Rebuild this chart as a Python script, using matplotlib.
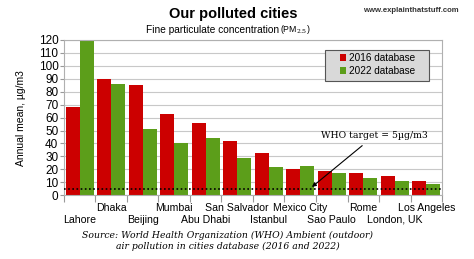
import matplotlib
matplotlib.use("Agg")
import matplotlib.pyplot as plt
from matplotlib.patches import Rectangle
import numpy as np

plt.rcParams["font.family"] = ["Liberation Sans", "DejaVu Sans"]
plt.rcParams["mathtext.fontset"] = "dejavuserif"

cities = ["Lahore", "Dhaka", "Beijing", "Mumbai", "Abu Dhabi", "San Salvador",
          "Istanbul", "Mexico City", "Sao Paulo", "Rome", "London, UK", "Los Angeles"]
pm_2016 = [68, 90, 85, 63, 56, 42, 33, 20, 19, 17, 15, 11]
pm_2022 = [120, 86, 51, 40, 44, 29, 22, 23, 17, 13, 11, 9]
who_target = 5

red = "#cc0000"
green = "#5c9e1a"

fig = plt.figure(figsize=(4.74, 2.59), dpi=100)
ax = fig.add_axes([0.135, 0.246, 0.7975, 0.6])

x = np.arange(len(cities)) + 0.5
w = 0.445
ax.bar(x - w / 2, pm_2016, w, color=red, label="2016 database", zorder=2)
ax.bar(x + w / 2, pm_2022, w, color=green, label="2022 database", zorder=2)
ax.axhline(who_target, color="black", ls=(0, (1, 1.5)), lw=1.2, zorder=3)

ax.set_xlim(0, len(cities))
ax.set_ylim(0, 120)
ax.set_yticks(range(0, 121, 10))
ax.tick_params(axis="y", labelsize=8.5, length=3, color="#999999", pad=1)
ax.yaxis.grid(True, color="#c8c8c8", lw=0.8, zorder=0)

# tick marks on the group boundaries, labels staggered on two rows
ax.set_xticks(np.arange(len(cities) + 1))
ax.set_xticklabels([])
ax.tick_params(axis="x", length=5, color="#999999")
for i, c in enumerate(cities):
    dy = -17.5 if i % 2 == 0 else -9.5
    ax.annotate(c, xy=(x[i], 0), xycoords=("data", "axes fraction"),
                xytext=(0, dy), textcoords="offset points",
                ha="center", va="center", fontsize=7.6)

for s in ax.spines.values():
    s.set_color("#b0b0b0")
    s.set_linewidth(0.8)

ax.set_ylabel("Annual mean, µg/m3", fontsize=7.5, labelpad=9)

ax.annotate("WHO target = 5µg/m3", xy=(7.87, 6.4), xytext=(9.85, 46),
            ha="center", va="center", fontsize=6.7, family="DejaVu Serif",
            arrowprops=dict(arrowstyle="-|>", color="black", lw=0.8,
                            mutation_scale=6, shrinkA=3, shrinkB=0),
            zorder=4)

# legend box drawn separately so its padding can match
fig.patches.append(Rectangle((325 / 474, 1 - 81 / 259), 104 / 474, 31 / 259,
                             transform=fig.transFigure, facecolor="#d9d9d9",
                             edgecolor="#555555", lw=0.8, zorder=5))
leg = fig.legend(loc="upper left", bbox_to_anchor=(337 / 474, 1 - 50 / 259),
                 borderaxespad=0, fontsize=7.2, frameon=False,
                 handlelength=0.6, handleheight=0.6, handletextpad=0.3,
                 borderpad=0.3, labelspacing=0.3)
leg.set_zorder(6)

fig.text(0.492, 0.945, "Our polluted cities", ha="center", va="center",
         fontsize=10.5, fontweight="bold")
fig.text(0.588, 0.885, "Fine particulate concentration", ha="right",
         va="center", fontsize=7.3)
fig.text(0.591, 0.885, r"(PM$_{2.5}$)", ha="left", va="center", fontsize=6.3)
fig.text(0.866, 0.96, "www.explainthatstuff.com", ha="center", va="center",
         fontsize=5.6, fontweight="bold", color="#333333")

fig.text(0.48, 0.07, "Source: World Health Organization (WHO) Ambient (outdoor)\n"
         "air pollution in cities database (2016 and 2022)",
         ha="center", va="center", fontsize=6.7, family="DejaVu Serif",
         style="italic", linespacing=1.15)

fig.savefig("out.png", dpi=100)
